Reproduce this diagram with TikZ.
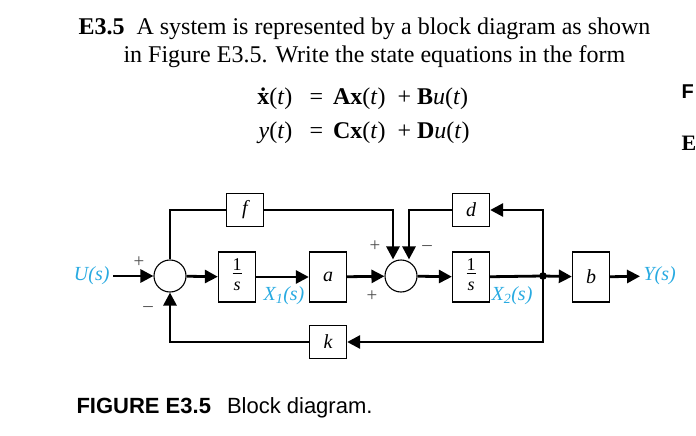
\documentclass[tikz,border=0pt]{standalone}
\usepackage{fontspec}
\setmainfont{Liberation Serif}
\newfontfamily\capfont{Liberation Sans}
\usetikzlibrary{arrows.meta}
\definecolor{lblue}{RGB}{40,170,225}
\newcommand{\fr}{\begin{tabular}{@{}c@{}}1\\[-3pt]\hline\rule{0pt}{17pt}\textit{s}\end{tabular}}
\begin{document}
\begin{tikzpicture}[x=1pt,y=-1pt,
  blk/.style={draw,line width=1.3pt,minimum width=37pt,minimum height=50pt,inner sep=0pt,font=\fontsize{18}{18}\selectfont},
  sblk/.style={draw,line width=1.3pt,minimum width=37pt,minimum height=33pt,inner sep=0pt,font=\fontsize{20}{20}\selectfont\itshape},
  sum/.style={draw,circle,line width=1.1pt,minimum size=32pt,inner sep=0pt},
  ln/.style={line width=2.8pt},
  ar/.style={line width=2.8pt,-{Triangle[length=13pt,width=13pt]}},
  lab/.style={text=lblue,font=\fontsize{20}{20}\selectfont\itshape},
  sg/.style={font=\fontsize{19}{19}\selectfont,text=black!70},
  txt/.style={font=\fontsize{24}{24}\selectfont}]
\useasboundingbox (0,0) rectangle (696,436);
% text
\node[anchor=base west,txt] (t1) at (75,35) {\textbf{E3.5}\hspace{12pt}A system is represented by a block diagram as shown};
\node[anchor=base west,txt] (t2) at (120,63) {in Figure E3.5. Write the state equations in the form};
\node[anchor=base east,txt] (e1l) at (296,104) {\textbf{\.x}(\textit{t})};
\node[anchor=base west,txt] (e1r) at (296,104) {\ \,=\ \,\textbf{Ax}(\textit{t}) \ +\ \textbf{B}\textit{u}(\textit{t})};
\node[anchor=base east,txt] (e2l) at (296,138) {\textit{y}(\textit{t})};
\node[anchor=base west,txt] (e2r) at (296,138) {\ \,=\ \,\textbf{Cx}(\textit{t}) \ +\ \textbf{D}\textit{u}(\textit{t})};
\node[anchor=base west,font=\capfont\bfseries\fontsize{20}{20}\selectfont] (fc) at (678,98) {F};
\node[anchor=base west,font=\bfseries\fontsize{22}{22}\selectfont] (ec) at (678,150) {E};
% blocks
\node[sum] (s1) at (170,276) {};
\node[sum] (s2) at (401,276) {};
\node[blk] (i1) at (237,277) {\fr};
\node[sblk,minimum height=50pt] (a) at (328,277) {a};
\node[blk] (i2) at (471,277) {\fr};
\node[sblk,minimum height=50pt] (b) at (591,277) {b};
\node[sblk] (f) at (245,210) {f};
\node[sblk] (d) at (471,210) {d};
\node[sblk] (k) at (328,342) {k};
\node[lab,anchor=east] (u) at (113,276) {U(s)};
\node[lab,anchor=west] (y) at (640,276) {Y(s)};
\node[lab] (x1) at (284,296) {X\textsubscript{1}(s)};
\node[lab] (x2) at (512,296) {X\textsubscript{2}(s)};
\coordinate (j) at (543,276);
\fill (j) circle (3.8pt);
% connectors
\draw[ar] (u) -- (s1);
\draw[ar] (s1) -- (i1);
\draw[ar] (i1) -- (a);
\draw[ar] (a) -- (s2);
\draw[ar] (s2) -- (i2);
\draw[ln] (i2) -- (j);
\draw[ar] (j) -- (b);
\draw[ar] (b) -- (y);
\draw[ln] (s1.north) |- (f.west);
\draw[ar] (f.east) -| ([xshift=-8pt]s2.north);
\draw[ar] (j) |- (d.east);
\draw[ar] (d.west) -| ([xshift=8pt]s2.north);
\draw[ar] (j) |- (k.east);
\draw[ar] (k.west) -| (s1.south);
% signs
\node[sg] (p1) at (139,262) {+};
\node[sg] (m1) at (148,309) {--};
\node[sg] (p2) at (375,246) {+};
\node[sg] (m2) at (427,248) {--};
\node[sg] (p3) at (372,296) {+};
% caption
\node[anchor=base west,font=\capfont\fontsize{22}{22}\selectfont] (cap) at (73,413) {\textbf{FIGURE E3.5}\hspace{16pt}Block diagram.};
\end{tikzpicture}
\end{document}
